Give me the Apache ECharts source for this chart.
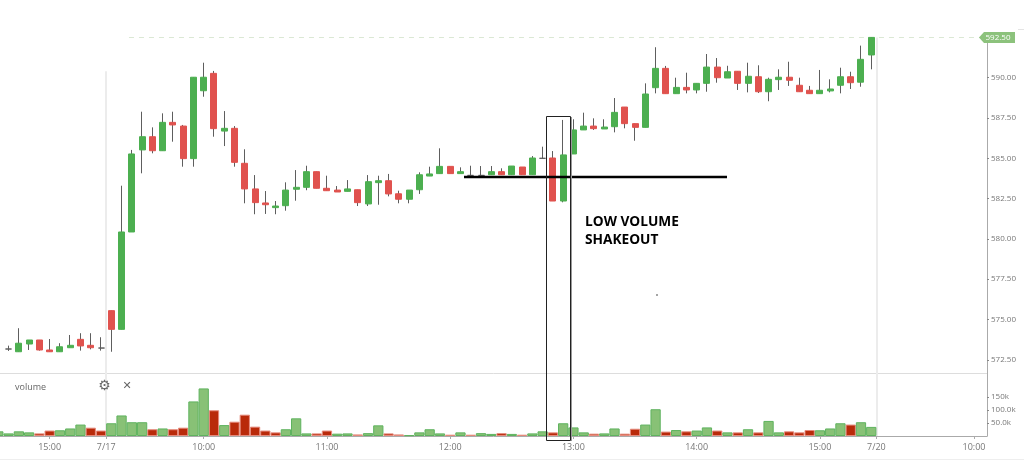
<!DOCTYPE html>
<html>
<head>
<meta charset="utf-8">
<title>Intraday price and volume</title>
<script src="https://cdn.jsdelivr.net/npm/echarts@6/dist/echarts.min.js"></script>
<style>
  html, body { margin: 0; padding: 0; background: #fff; }
  #chart { width: 1024px; height: 464px; }
</style>
</head>
<body>
<div id="chart"></div>
<script>
// Five-minute bars: position, open, close, low, high
const bars = [
  [-10,573.17,573.17,573.05,573.38],[-9,573.00,573.53,573.00,574.46],[-8,573.48,573.73,573.11,573.73],
  [-7,573.73,573.11,573.07,573.73],[-6,573.11,573.00,573.00,573.79],[-5,573.00,573.31,573.00,573.53],
  [-4,573.25,573.40,573.25,574.04],[-3,573.77,573.36,573.07,574.15],[-2,573.40,573.25,573.15,574.15],
  [-1,573.23,573.23,573.07,573.90],[0,575.55,574.39,573.00,575.55],[1,574.39,580.43,574.39,583.30],
  [2,580.43,585.27,580.43,585.52],[3,585.52,586.34,584.07,587.89],[4,586.34,585.47,585.31,586.92],
  [5,585.47,587.23,585.47,587.79],[6,587.23,587.07,586.03,587.89],[7,587.00,584.98,584.48,587.07],
  [8,584.98,590.03,584.48,590.03],[9,589.19,590.03,588.82,590.93],[10,590.27,586.84,586.34,590.42],
  [11,586.69,586.86,585.76,587.93],[12,586.86,584.75,584.48,587.00],[13,584.69,583.10,582.21,585.56],
  [14,583.10,582.25,581.53,583.96],[15,582.23,582.12,581.55,582.97],[16,581.94,582.04,581.53,582.35],
  [17,582.06,583.03,581.75,583.51],[18,583.08,583.20,582.37,584.27],[19,583.20,584.17,583.02,584.54],
  [20,584.17,583.14,583.14,584.17],[21,583.14,582.99,582.99,583.92],[22,583.03,582.91,582.91,583.28],
  [23,582.95,583.10,582.95,583.65],[24,583.05,582.25,582.04,583.05],[25,582.17,583.55,582.04,583.96],
  [26,583.49,583.61,582.12,583.92],[27,583.61,582.79,582.64,584.03],[28,582.80,582.46,582.21,582.99],
  [29,582.46,583.03,582.21,583.03],[30,583.05,583.98,582.79,584.13],[31,583.90,584.03,583.90,584.48],
  [32,584.05,584.50,584.05,585.62],[33,584.50,584.05,584.05,584.50],[34,584.05,584.17,584.05,584.44],
  [35,583.94,583.94,583.90,584.54],[36,583.94,583.94,583.90,584.52],[37,583.98,584.17,583.98,584.52],
  [38,584.17,583.98,583.98,584.38],[39,583.98,584.52,583.98,584.52],[40,584.46,583.98,583.98,584.46],
  [41,583.98,585.02,583.98,585.14],[42,585.00,585.00,585.00,585.72],[43,585.02,582.35,582.35,585.45],
  [44,582.35,585.21,582.27,587.38],[45,585.27,586.76,585.27,587.42],[46,586.76,587.00,586.76,587.83],
  [47,587.00,586.84,586.76,587.48],[48,586.82,586.94,586.82,587.42],[49,586.96,587.85,586.61,588.74],
  [50,588.18,587.15,586.86,588.18],[51,587.15,586.92,586.09,587.15],[52,586.92,588.99,586.92,589.65],
  [53,589.38,590.58,589.03,591.89],[54,590.58,589.01,589.01,590.73],[55,589.01,589.40,589.01,590.00],
  [56,589.40,589.24,589.03,590.31],[57,589.24,589.65,589.03,589.65],[58,589.65,590.66,589.13,591.47],
  [59,590.66,590.00,589.69,591.22],[60,589.98,590.37,589.98,590.74],[61,590.40,589.65,589.24,590.40],
  [62,589.65,590.09,589.09,590.93],[63,590.06,589.13,589.05,590.77],[64,589.13,589.90,588.54,590.00],
  [65,589.88,590.03,589.24,590.52],[66,590.03,589.84,589.49,590.99],[67,589.53,589.13,589.13,590.00],
  [68,589.22,589.01,589.01,589.49],[69,589.01,589.22,589.01,590.48],[70,589.18,589.30,589.09,589.90],
  [71,589.53,590.06,589.03,590.62],[72,590.06,589.69,589.30,590.37],[73,589.72,591.14,589.44,591.99],
  [74,591.41,592.50,590.52,592.50]
];

// Volume per bar in thousands of shares, from position -11 onwards
const volumeStart = -11;
const volumes = [
  18, 10, 18, 14, 10, 21, 22, 29, 44, 32, 21,
  49, 79, 53, 53, 26, 29, 26, 32, 133, 183,
  99, 42, 55, 82, 36, 21, 14, 26, 68, 10,
  10, 21, 9, 10, 6, 11, 41, 10, 6, 3,
  14, 26, 10, 5, 14, 5, 11, 8, 11, 8,
  5, 10, 18, 14, 49, 33, 14, 9, 10, 29,
  9, 28, 44, 103, 17, 23, 18, 21, 33, 21,
  14, 14, 26, 14, 58, 14, 18, 14, 23, 22,
  29, 49, 44, 53, 35
];
// Rising (u) or falling (d) colouring of each volume bar, in the same rows
const volumeSides = [
  'u','u','u','u','d','d','u','u','u','d','d',
  'u','u','u','u','d','u','d','d','u','u',
  'd','u','d','d','d','d','d','u','u','u',
  'd','d','u','u','d','u','u','d','d','u',
  'u','u','u','d','u','d','u','u','d','u',
  'd','u','u','d','u','u','u','d','u','u',
  'd','d','u','u','d','u','d','u','u','d',
  'u','d','u','d','u','u','d','d','d','u',
  'u','u','d','u','u'
];

const xTickValues = [-6, -0.5, 9, 21, 33, 45, 57, 69, 74.5, 84];
const xTickLabels = ['15:00', '7/17', '10:00', '11:00', '12:00', '13:00', '14:00', '15:00', '7/20', '10:00'];
const sessionBreaks = [[-0.5, 590.4], [74.5, 592.5]];

const priceTicks = [572.5, 575, 577.5, 580, 582.5, 585, 587.5, 590];
const volumeTicks = [50, 100, 150];
const volumeTickLabels = ['50.0k', '100.0k', '150k'];
const lastPrice = 592.5;

const X_MIN = -10.837, X_MAX = 85.27;
const PRICE_MIN = 571.62, PRICE_MAX = 592.525;
const VOLUME_MAX = 238.5;

const UP = '#4caf50', DOWN = '#e0524e', WICK = '#5e5e5e';
const AXIS_TEXT = '#777777';
const VOL_UP = '#88c176', VOL_UP_EDGE = '#5fb35f', VOL_DOWN = '#b92a0a', VOL_DOWN_EDGE = '#e58a7c';
const TEXT_FONT = '"Open Sans", sans-serif';
const NOTE_FONT = 'bold 13.7px "Open Sans", sans-serif';

const chart = echarts.init(document.getElementById('chart'), null, { renderer: 'canvas' });

// The wick layer keeps the full low-high range; the body layer only spans open-close
const bodyData = bars.map(([x, o, c]) => [x, o, c, Math.min(o, c), Math.max(o, c)]);

const volumeData = volumes.map((v, i) => {
  const up = volumeSides[i] === 'u';
  return {
    value: [volumeStart + i, v],
    itemStyle: { color: up ? VOL_UP : VOL_DOWN, borderColor: up ? VOL_UP_EDGE : VOL_DOWN_EDGE, borderWidth: 1 }
  };
});

const breakLine = {
  silent: true, symbol: 'none', animation: false, z: 1, label: { show: false },
  lineStyle: { color: '#ececec', width: 2, type: 'solid' }
};

chart.setOption({
  animation: false,
  backgroundColor: '#ffffff',
  grid: [
    { left: 0, right: 37, top: 37, height: 337 },
    { left: 0, right: 37, top: 374, height: 62 }
  ],
  xAxis: [
    { type: 'value', gridIndex: 0, min: X_MIN, max: X_MAX, show: false },
    {
      type: 'value', gridIndex: 1, min: X_MIN, max: X_MAX,
      splitLine: { show: false },
      axisLine: { show: true, onZero: false, lineStyle: { color: '#aaaaaa', width: 1 } },
      axisTick: { show: true, length: 3, customValues: xTickValues, lineStyle: { color: '#aaaaaa' } },
      axisLabel: {
        show: true, customValues: xTickValues, color: AXIS_TEXT, fontSize: 9, fontFamily: TEXT_FONT, margin: 7,
        hideOverlap: false, showMinLabel: true, showMaxLabel: true,
        formatter: v => xTickLabels[xTickValues.indexOf(v)]
      }
    }
  ],
  yAxis: [
    {
      type: 'value', gridIndex: 0, position: 'right', min: PRICE_MIN, max: PRICE_MAX,
      splitLine: { show: false },
      axisLine: { show: true, onZero: false, lineStyle: { color: '#aaaaaa', width: 1 } },
      axisTick: { show: true, length: 2, customValues: priceTicks, lineStyle: { color: '#888888' } },
      axisLabel: {
        show: true, customValues: priceTicks, color: AXIS_TEXT, fontSize: 8, fontFamily: TEXT_FONT, margin: 4,
        padding: [2, 0, 0, 0], formatter: v => v.toFixed(2)
      }
    },
    {
      type: 'value', gridIndex: 1, position: 'right', min: 0, max: VOLUME_MAX,
      splitLine: { show: false },
      axisLine: { show: true, onZero: false, lineStyle: { color: '#aaaaaa', width: 1 } },
      axisTick: { show: true, length: 2, customValues: volumeTicks, lineStyle: { color: '#888888' } },
      axisLabel: {
        show: true, customValues: volumeTicks, color: AXIS_TEXT, fontSize: 8, fontFamily: TEXT_FONT, margin: 4,
        padding: [2, 0, 0, 0], formatter: v => volumeTickLabels[volumeTicks.indexOf(v)]
      }
    }
  ],
  series: [
    {
      name: 'wicks', type: 'candlestick', xAxisIndex: 0, yAxisIndex: 0, z: 2,
      barWidth: 1, data: bars, encode: { x: 0, y: [1, 2, 3, 4] },
      itemStyle: { color: WICK, color0: WICK, borderColor: WICK, borderColor0: WICK, borderColorDoji: WICK, borderWidth: 1 },
      markLine: Object.assign({}, breakLine, {
        data: sessionBreaks.map(([x, top]) => [{ coord: [x, PRICE_MIN] }, { coord: [x, top] }])
      })
    },
    {
      name: 'bodies', type: 'candlestick', xAxisIndex: 0, yAxisIndex: 0, z: 3,
      barWidth: 6.5, data: bodyData, encode: { x: 0, y: [1, 2, 3, 4] },
      itemStyle: { color: UP, color0: DOWN, borderColor: UP, borderColor0: DOWN, borderColorDoji: WICK, borderWidth: 1 },
      markLine: {
        silent: true, symbol: 'none', animation: false, z: 1, label: { show: false },
        lineStyle: { color: '#dbe8d4', width: 1, type: [5, 5] },
        data: [[{ coord: [1.72, lastPrice] }, { coord: [84.6, lastPrice] }]]
      },
      markPoint: {
        silent: true, animation: false,
        symbol: 'path://M0 5.5 L5 0 L36 0 L36 11 L5 11 Z',
        symbolSize: [36, 11],
        symbolOffset: [10, 0],
        itemStyle: { color: '#8cc27c' },
        label: { show: true, color: '#ffffff', fontSize: 8, fontFamily: TEXT_FONT, offset: [1, 0], formatter: () => lastPrice.toFixed(2) },
        data: [{ coord: [X_MAX, lastPrice] }]
      }
    },
    {
      name: 'volume', type: 'bar', xAxisIndex: 1, yAxisIndex: 1, z: 2,
      barWidth: 10.27, data: volumeData,
      markLine: Object.assign({}, breakLine, {
        data: sessionBreaks.map(([x]) => [{ coord: [x, 0] }, { coord: [x, VOLUME_MAX] }])
      })
    }
  ],
  graphic: [
    // Panel furniture
    { type: 'line', silent: true, z: 1, shape: { x1: 0, y1: 373.5, x2: 987, y2: 373.5 }, style: { stroke: '#dddddd', lineWidth: 1 } },
    { type: 'line', silent: true, z: 1, shape: { x1: 0, y1: 459.5, x2: 1024, y2: 459.5 }, style: { stroke: '#eeeeee', lineWidth: 1 } },
    { type: 'line', silent: true, z: 1, shape: { x1: 1018, y1: 29.5, x2: 1024, y2: 29.5 }, style: { stroke: '#e4e4e4', lineWidth: 1 } },
    { type: 'text', silent: true, z: 10, style: { x: 15, y: 387, text: 'volume', fill: '#666666', font: '9px ' + TEXT_FONT, textVerticalAlign: 'middle' } },
    { type: 'text', silent: true, z: 10, style: { x: 104.5, y: 386, text: '\u2699', fill: '#666666', font: '14px "DejaVu Sans"', textAlign: 'center', textVerticalAlign: 'middle' } },
    { type: 'text', silent: true, z: 10, style: { x: 127, y: 386, text: '\u2715', fill: '#666666', font: '11px "DejaVu Sans"', textAlign: 'center', textVerticalAlign: 'middle' } },
    // Notes written over the chart
    { type: 'line', silent: true, z: 20, shape: { x1: 464, y1: 177, x2: 727, y2: 177 }, style: { stroke: '#000000', lineWidth: 2.5 } },
    { type: 'rect', silent: true, z: 20, shape: { x: 546.5, y: 116.5, width: 24, height: 324 }, style: { fill: 'none', stroke: '#222222', lineWidth: 1 } },
    { type: 'line', silent: true, z: 20, shape: { x1: 571.5, y1: 117, x2: 571.5, y2: 441 }, style: { stroke: '#999999', lineWidth: 1 } },
    { type: 'text', silent: true, z: 20, style: { x: 585, y: 222, text: 'LOW VOLUME', fill: '#000000', font: NOTE_FONT, textVerticalAlign: 'middle' } },
    { type: 'text', silent: true, z: 20, style: { x: 585, y: 240, text: 'SHAKEOUT', fill: '#000000', font: NOTE_FONT, textVerticalAlign: 'middle' } },
    { type: 'circle', silent: true, z: 20, shape: { cx: 657, cy: 295, r: 0.8 }, style: { fill: '#333333' } }
  ]
});
</script>
</body>
</html>
